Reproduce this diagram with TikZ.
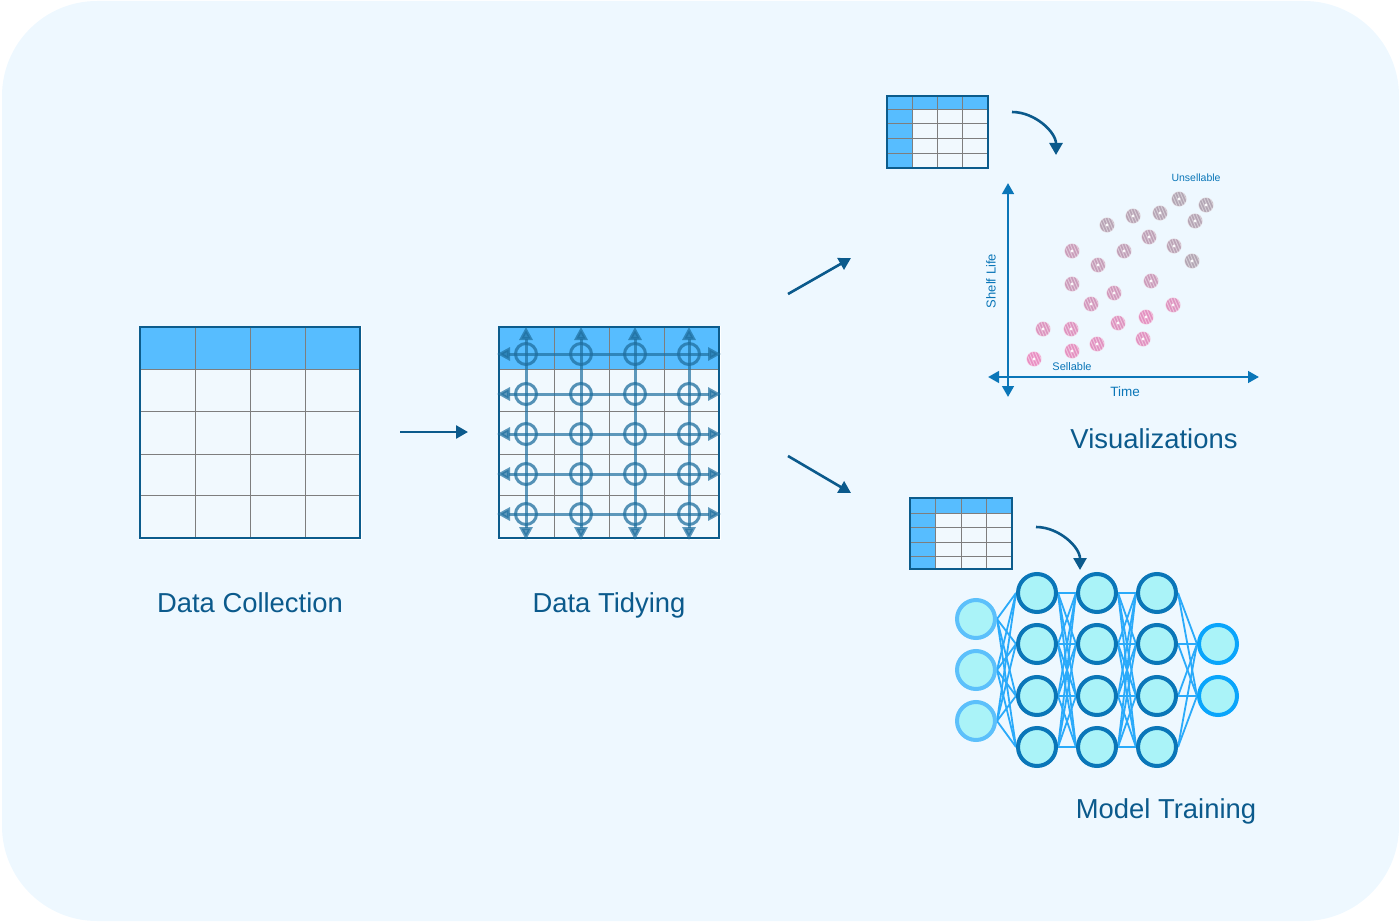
\documentclass[tikz,border=0pt]{standalone}
\usepackage{xcolor}
\usepackage{fontspec}
\setmainfont{Liberation Sans}
\usetikzlibrary{
	arrows.meta, % for the arrow tips
	backgrounds
	}

\definecolor{panelbg}{HTML}{EEF8FF}
\definecolor{cellbg}{HTML}{F1F9FE}
\definecolor{headblue}{HTML}{57BDFF}
\definecolor{griddark}{HTML}{0C5C8C}
\definecolor{gridgray}{HTML}{7E7E7E}
\definecolor{titleblue}{HTML}{0B5A8C}
\definecolor{axisblue}{HTML}{0A76B8}
\definecolor{tidyblue}{HTML}{1F6F9F}
\definecolor{neuronfill}{HTML}{AAF3F8}
\definecolor{inring}{HTML}{5CC0FB}
\definecolor{outring}{HTML}{0AA5FB}
\definecolor{edgeblue}{HTML}{2AAAFA}
\definecolor{donutpink}{HTML}{E98FC3}
\definecolor{donutgray}{HTML}{B3A6B4}

\tikzset{
	stagetitle/.style={text=titleblue, font=\fontsize{27.4}{30}\selectfont, inner sep=0pt, anchor=base},
	smalltext/.style={text=axisblue, font=\fontsize{#1}{14}\selectfont, inner sep=0pt},
	flowarrow/.style={titleblue, line width=2.6pt, -{Triangle[length=12pt,width=13pt]}},
	axisline/.style={axisblue, line width=2.9pt, {Triangle[length=11pt,width=11.5pt]}-{Triangle[length=11pt,width=11.5pt]}},
	tidyline/.style={tidyblue, opacity=0.7, line width=3pt, {Triangle[length=13pt,width=13pt]}-{Triangle[length=13pt,width=13pt]}},
	tidyring/.style={circle, draw=tidyblue, draw opacity=0.75, line width=3pt, minimum size=21pt, inner sep=0pt},
	neuron/.style={circle, fill=neuronfill, draw=#1, line width=4pt, minimum size=38pt, inner sep=0pt},
	nnedge/.style={edgeblue, line width=1.8pt},
	gridline/.style={gridgray, line width=1pt},
	gridframe/.style={griddark, line width=1.2pt},
	donut/.style={circle, fill=donutgray!#1!donutpink, draw=white, draw opacity=0.5, line width=0.5pt, minimum size=15pt, inner sep=0pt,
		path picture={
			\foreach \s in {-8,-5,-2,1,4,7}
				\draw[white, opacity=0.45, line width=0.9pt]
					([xshift=\s pt+3pt,yshift=-7pt]path picture bounding box.center) -- ++(-6pt,14pt);
			\fill[white, opacity=0.9] (path picture bounding box.center) circle (1.7pt);
		}}
}

\begin{document}
\begin{tikzpicture}[x=1pt, y=-1pt]

	\useasboundingbox (0,0) rectangle (1400,923);

	% Panel, on the background with the network edges
	\begin{scope}[on background layer]
		\fill[panelbg, rounded corners=95pt] (2,1) rectangle (1399,921);
	\end{scope}

	% Table of the data collection
	\fill[white] (138.5,325.5) rectangle (361.5,539.5);
	\fill[cellbg] (140,369) rectangle (360,538);
	\fill[headblue] (140,327) rectangle (360,369);
	\foreach \x in {195,250,305}
		\draw[gridline] (\x,327) -- (\x,538);
	\foreach \y in {369,411,454,495}
		\draw[gridline] (140,\y) -- (360,\y);
	\draw[gridframe] (140,327) rectangle (360,538);

	% Table of the data tidying
	\fill[white] (497.5,325.5) rectangle (720.5,539.5);
	\fill[cellbg] (499,369) rectangle (719,538);
	\fill[headblue] (499,327) rectangle (719,369);
	\foreach \x in {554,609,664}
		\draw[gridline] (\x,327) -- (\x,538);
	\foreach \y in {369,411,454,495}
		\draw[gridline] (499,\y) -- (719,\y);
	\draw[gridframe] (499,327) rectangle (719,538);

	% Rings and their lines
	\foreach \y [count=\j] in {354,394,434,474,514} {
		\foreach \x [count=\i] in {526,581,635,689}
			\node (ring\i\j) [tidyring] at (\x,\y) {};
		\coordinate (rowl\j) at (497,\y);
		\coordinate (rowr\j) at (721,\y);
		\draw[tidyline] (rowl\j) -- (rowr\j);
	}
	\foreach \x [count=\i] in {526,581,635,689} {
		\coordinate (colt\i) at (\x,327);
		\coordinate (colb\i) at (\x,540);
		\draw[tidyline] (colt\i) -- (colb\i);
	}

	% Small table above the plot
	\fill[white] (886,95) rectangle (989,169);
	\fill[cellbg] (887,96) rectangle (988,168);
	\fill[headblue] (887,96) rectangle (988,110);
	\fill[headblue] (887,96) rectangle (912,168);
	\foreach \x in {912,937,962}
		\draw[gridline] (\x,96) -- (\x,168);
	\foreach \y in {110,124,139,154}
		\draw[gridline] (887,\y) -- (988,\y);
	\draw[gridframe] (887,96) rectangle (988,168);

	% Small table above the network
	\fill[white] (909,497) rectangle (1013,570);
	\fill[cellbg] (910,498) rectangle (1012,569);
	\fill[headblue] (910,498) rectangle (1012,513);
	\fill[headblue] (910,498) rectangle (935,569);
	\foreach \x in {935,961,986}
		\draw[gridline] (\x,498) -- (\x,569);
	\foreach \y in {513,527,542,556}
		\draw[gridline] (910,\y) -- (1012,\y);
	\draw[gridframe] (910,498) rectangle (1012,569);

	% Flow arrows
	\coordinate (collectout) at (400,432);
	\coordinate (tidyin) at (468,432);
	\coordinate (tidyup) at (788,294);
	\coordinate (vizin) at (851,258);
	\coordinate (tidydown) at (788,456);
	\coordinate (modelin) at (851,493);
	\draw[flowarrow] (collectout) -- (tidyin);
	\draw[flowarrow] (tidyup) -- (vizin);
	\draw[flowarrow] (tidydown) -- (modelin);

	% Curved arrows
	\coordinate (smalla) at (1012,112);
	\coordinate (plotin) at (1056,155);
	\coordinate (smallb) at (1036,527);
	\coordinate (netin) at (1080,570);
	\draw[flowarrow] (smalla) to[out=0, in=90, looseness=0.95] (plotin);
	\draw[flowarrow] (smallb) to[out=0, in=90, looseness=0.95] (netin);

	% Axes
	\coordinate (ytop) at (1008,183);
	\coordinate (ybot) at (1008,397);
	\coordinate (xleft) at (988,377);
	\coordinate (xright) at (1259,377);
	\draw[axisline] (ybot) -- (ytop);
	\draw[axisline] (xleft) -- (xright);

	% Donuts: x, y, share of gray
	\foreach \x/\y/\g [count=\d] in {
		1179/199/100, 1206/205/100, 1195/221/95, 1160/213/95, 1133/216/90,
		1107/225/90, 1149/237/80, 1174/246/85, 1192/261/100, 1124/251/75,
		1098/265/65, 1072/251/60, 1072/284/55, 1151/281/55, 1114/293/45,
		1091/304/40, 1173/305/20, 1146/317/10, 1118/323/20, 1043/329/25,
		1071/329/20, 1143/339/15, 1097/344/15, 1072/351/10, 1034/359/0}
		\node (donut\d) [donut=\g] at (\x,\y) {};

	% Network
	\foreach \y [count=\i] in {619,670,721}
		\node (in\i) [neuron=inring] at (976,\y) {};
	\foreach \y [count=\i] in {593,644,696,747} {
		\node (ha\i) [neuron=axisblue] at (1037,\y) {};
		\node (hb\i) [neuron=axisblue] at (1097,\y) {};
		\node (hc\i) [neuron=axisblue] at (1157,\y) {};
	}
	\foreach \y [count=\i] in {644,696}
		\node (out\i) [neuron=outring] at (1218,\y) {};
	\begin{scope}[on background layer]
		\foreach \i in {1,2,3}
			\foreach \j in {1,2,3,4}
				\draw[nnedge] (in\i.east) -- (ha\j.west);
		\foreach \i in {1,2,3,4}
			\foreach \j in {1,2,3,4} {
				\draw[nnedge] (ha\i.east) -- (hb\j.west);
				\draw[nnedge] (hb\i.east) -- (hc\j.west);
			}
		\foreach \i in {1,2,3,4}
			\foreach \j in {1,2}
				\draw[nnedge] (hc\i.east) -- (out\j.west);
	\end{scope}

	% Labels
	\node (collecttitle) [stagetitle] at (250,612) {Data Collection};
	\node (tidytitle) [stagetitle] at (609,612) {Data Tidying};
	\node (viztitle) [stagetitle] at (1154,448) {Visualizations};
	\node (modeltitle) [stagetitle] at (1166,818) {Model Training};
	\node (timelabel) [smalltext=13.5] at (1125,392) {Time};
	\node (shelflabel) [smalltext=13, rotate=90] at (991,281) {Shelf Life};
	\node (selllabel) [smalltext=11] at (1072,367) {Sellable};
	\node (unselllabel) [smalltext=10.5] at (1196,178) {Unsellable};

\end{tikzpicture}
\end{document}
